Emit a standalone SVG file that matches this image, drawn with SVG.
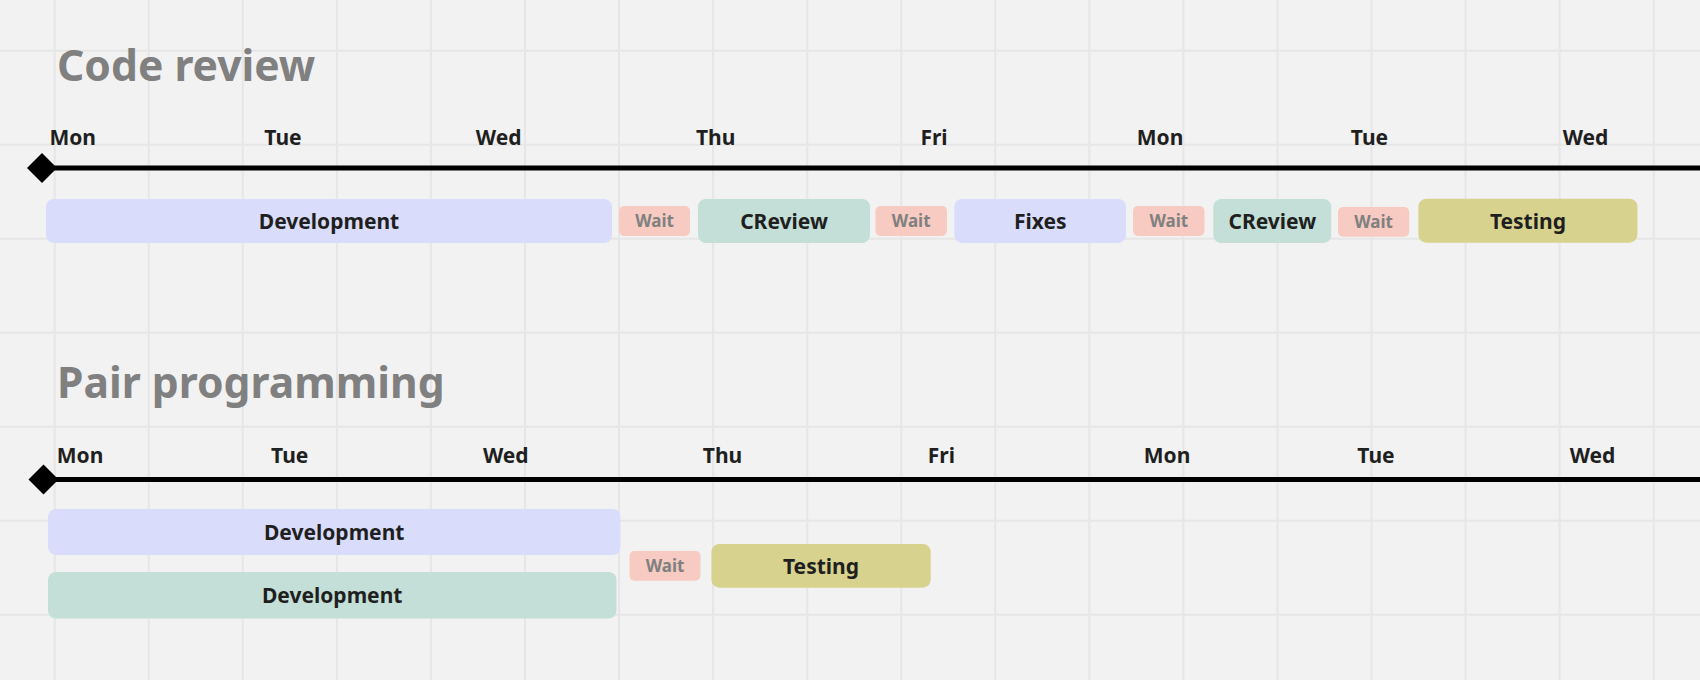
<svg xmlns="http://www.w3.org/2000/svg" width="1700" height="680" viewBox="0 0 1700 680">
<style>
.title{font-family:"Noto Sans","Open Sans",sans-serif;font-weight:700;font-size:42.6px;fill:#808080}
.day{font-family:"Noto Sans","Open Sans",sans-serif;font-weight:700;font-size:21px;fill:#1f1f1f;text-anchor:middle}
.lbl{font-family:"Noto Sans","Open Sans",sans-serif;font-weight:700;font-size:21px;fill:#1f1f1f;text-anchor:middle}
.wlbl{font-family:"Noto Sans","Open Sans",sans-serif;font-weight:700;font-size:17px;fill:#808080;text-anchor:middle}
.dev{fill:#d9dcfa}
.rev{fill:#c3dfd7}
.test{fill:#d7d28d}
.wait{fill:#f7cbc2}
.grid{stroke:#e6e6e6;stroke-width:2;fill:none}
.tl{stroke:#000;stroke-width:5;fill:none}
</style>
<defs>
<marker id="diamond" markerUnits="userSpaceOnUse" markerWidth="32" markerHeight="32" refX="16" refY="16" orient="auto">
<polygon points="16,1 31,16 16,31 1,16" fill="#000"/>
</marker>
</defs>
<rect width="1700" height="680" fill="#f2f2f2"/>
<path class="grid" d="M54.7,0V680M148.8,0V680M242.8,0V680M336.9,0V680M430.9,0V680M525,0V680M619,0V680M713.1,0V680M807.2,0V680M901.2,0V680M995.3,0V680M1089.3,0V680M1183.4,0V680M1277.5,0V680M1371.5,0V680M1465.6,0V680M1559.6,0V680M1653.7,0V680M0,50.7H1700M0,144.7H1700M0,238.7H1700M0,332.7H1700M0,426.7H1700M0,520.7H1700M0,614.7H1700"/>

<g id="title-code-review"><text class="title" x="57" y="81">Code review</text></g>
<g id="title-pair-programming"><text class="title" x="57" y="398">Pair programming</text></g>

<g id="connectors">
<path class="tl" d="M42,168H1700" marker-start="url(#diamond)"/>
<path class="tl" d="M43.5,479.5H1700" marker-start="url(#diamond)"/>
</g>

<g id="days-row1">
<text class="day" x="72.7" y="145">Mon</text>
<text class="day" x="283" y="145">Tue</text>
<text class="day" x="498.7" y="145">Wed</text>
<text class="day" x="715.7" y="145">Thu</text>
<text class="day" x="934" y="145">Fri</text>
<text class="day" x="1160" y="145">Mon</text>
<text class="day" x="1369.5" y="145">Tue</text>
<text class="day" x="1585.5" y="145">Wed</text>
</g>
<g id="days-row2">
<text class="day" x="80" y="463">Mon</text>
<text class="day" x="289.7" y="463">Tue</text>
<text class="day" x="505.8" y="463">Wed</text>
<text class="day" x="722.5" y="463">Thu</text>
<text class="day" x="941.4" y="463">Fri</text>
<text class="day" x="1167" y="463">Mon</text>
<text class="day" x="1376" y="463">Tue</text>
<text class="day" x="1592.5" y="463">Wed</text>
</g>

<g id="cr-development"><rect class="dev" x="46" y="199" width="566" height="44" rx="8"/><text class="lbl" x="329" y="229">Development</text></g>
<g id="cr-wait1"><rect class="wait" x="619" y="206" width="71" height="30" rx="5"/><text class="wlbl" x="654.5" y="227">Wait</text></g>
<g id="cr-creview1"><rect class="rev" x="698" y="199" width="172" height="44" rx="8"/><text class="lbl" x="784" y="229">CReview</text></g>
<g id="cr-wait2"><rect class="wait" x="875.4" y="206" width="71.6" height="30" rx="5"/><text class="wlbl" x="911.2" y="227">Wait</text></g>
<g id="cr-fixes"><rect class="dev" x="954.3" y="199" width="171.7" height="44" rx="8"/><text class="lbl" x="1040.2" y="229">Fixes</text></g>
<g id="cr-wait3"><rect class="wait" x="1133" y="206" width="71.5" height="30" rx="5"/><text class="wlbl" x="1168.8" y="227">Wait</text></g>
<g id="cr-creview2"><rect class="rev" x="1213.3" y="199" width="118" height="44" rx="8"/><text class="lbl" x="1272.3" y="229">CReview</text></g>
<g id="cr-wait4"><rect class="wait" x="1338" y="207" width="71.2" height="29.7" rx="5"/><text class="wlbl" x="1373.6" y="227.5">Wait</text></g>
<g id="cr-testing"><rect class="test" x="1418.4" y="198.7" width="219" height="44" rx="8"/><text class="lbl" x="1527.9" y="229">Testing</text></g>

<g id="pp-development1"><rect class="dev" x="48" y="509" width="572.5" height="46" rx="8"/><text class="lbl" x="334.2" y="540">Development</text></g>
<g id="pp-development2"><rect class="rev" x="48" y="572" width="568.5" height="46.5" rx="8"/><text class="lbl" x="332.2" y="603">Development</text></g>
<g id="pp-wait"><rect class="wait" x="629.5" y="551" width="71" height="29.7" rx="5"/><text class="wlbl" x="665" y="572">Wait</text></g>
<g id="pp-testing"><rect class="test" x="711.4" y="544" width="219.3" height="43.7" rx="8"/><text class="lbl" x="821" y="574">Testing</text></g>
</svg>
